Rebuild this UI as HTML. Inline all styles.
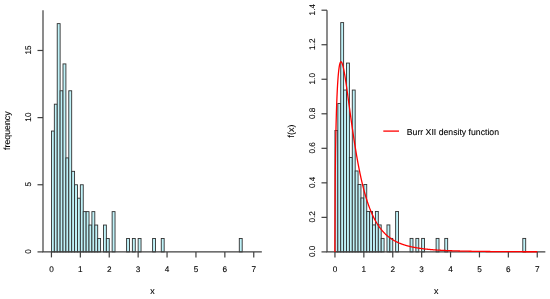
<!DOCTYPE html>
<html><head><meta charset="utf-8"><title>Histograms</title>
<style>html,body{margin:0;padding:0;background:#fff;}svg{display:block;}text{text-rendering:geometricPrecision;}</style></head>
<body><svg width="550" height="299" viewBox="0 0 550 299">
<rect width="550" height="299" fill="#fff"/>
<rect x="51.45" y="131.05" width="2.89" height="120.85" fill="#bff2f8" stroke="#303030" stroke-width="0.9"/>
<rect x="54.34" y="104.19" width="2.89" height="147.71" fill="#bff2f8" stroke="#303030" stroke-width="0.9"/>
<rect x="57.23" y="23.63" width="2.89" height="228.27" fill="#bff2f8" stroke="#303030" stroke-width="0.9"/>
<rect x="60.12" y="90.77" width="2.89" height="161.13" fill="#bff2f8" stroke="#303030" stroke-width="0.9"/>
<rect x="63.01" y="63.91" width="2.89" height="187.99" fill="#bff2f8" stroke="#303030" stroke-width="0.9"/>
<rect x="65.90" y="157.91" width="2.89" height="93.99" fill="#bff2f8" stroke="#303030" stroke-width="0.9"/>
<rect x="68.79" y="90.77" width="2.89" height="161.13" fill="#bff2f8" stroke="#303030" stroke-width="0.9"/>
<rect x="71.68" y="171.33" width="2.89" height="80.57" fill="#bff2f8" stroke="#303030" stroke-width="0.9"/>
<rect x="74.57" y="184.76" width="2.89" height="67.14" fill="#bff2f8" stroke="#303030" stroke-width="0.9"/>
<rect x="77.46" y="198.19" width="2.89" height="53.71" fill="#bff2f8" stroke="#303030" stroke-width="0.9"/>
<rect x="80.35" y="184.76" width="2.89" height="67.14" fill="#bff2f8" stroke="#303030" stroke-width="0.9"/>
<rect x="83.24" y="211.62" width="2.89" height="40.28" fill="#bff2f8" stroke="#303030" stroke-width="0.9"/>
<rect x="86.13" y="211.62" width="2.89" height="40.28" fill="#bff2f8" stroke="#303030" stroke-width="0.9"/>
<rect x="89.02" y="225.04" width="2.89" height="26.86" fill="#bff2f8" stroke="#303030" stroke-width="0.9"/>
<rect x="91.91" y="211.62" width="2.89" height="40.28" fill="#bff2f8" stroke="#303030" stroke-width="0.9"/>
<rect x="94.80" y="225.04" width="2.89" height="26.86" fill="#bff2f8" stroke="#303030" stroke-width="0.9"/>
<rect x="97.69" y="238.47" width="2.89" height="13.43" fill="#bff2f8" stroke="#303030" stroke-width="0.9"/>
<rect x="103.47" y="225.04" width="2.89" height="26.86" fill="#bff2f8" stroke="#303030" stroke-width="0.9"/>
<rect x="106.36" y="238.47" width="2.89" height="13.43" fill="#bff2f8" stroke="#303030" stroke-width="0.9"/>
<rect x="112.14" y="211.62" width="2.89" height="40.28" fill="#bff2f8" stroke="#303030" stroke-width="0.9"/>
<rect x="126.59" y="238.47" width="2.89" height="13.43" fill="#bff2f8" stroke="#303030" stroke-width="0.9"/>
<rect x="132.37" y="238.47" width="2.89" height="13.43" fill="#bff2f8" stroke="#303030" stroke-width="0.9"/>
<rect x="138.15" y="238.47" width="2.89" height="13.43" fill="#bff2f8" stroke="#303030" stroke-width="0.9"/>
<rect x="152.60" y="238.47" width="2.89" height="13.43" fill="#bff2f8" stroke="#303030" stroke-width="0.9"/>
<rect x="161.27" y="238.47" width="2.89" height="13.43" fill="#bff2f8" stroke="#303030" stroke-width="0.9"/>
<rect x="239.30" y="238.47" width="2.89" height="13.43" fill="#bff2f8" stroke="#303030" stroke-width="0.9"/>
<path d="M43.00,10.20 V251.90 H261.84" fill="none" stroke="#404040" stroke-width="1.2"/>
<line x1="51.45" y1="251.90" x2="51.45" y2="257.40" stroke="#404040" stroke-width="1.2"/>
<text x="51.45" y="271.70" font-size="8.2" text-anchor="middle" font-family="Liberation Sans, Arial, sans-serif" stroke="#000" stroke-width="0.1">0</text>
<line x1="80.35" y1="251.90" x2="80.35" y2="257.40" stroke="#404040" stroke-width="1.2"/>
<text x="80.35" y="271.70" font-size="8.2" text-anchor="middle" font-family="Liberation Sans, Arial, sans-serif" stroke="#000" stroke-width="0.1">1</text>
<line x1="109.25" y1="251.90" x2="109.25" y2="257.40" stroke="#404040" stroke-width="1.2"/>
<text x="109.25" y="271.70" font-size="8.2" text-anchor="middle" font-family="Liberation Sans, Arial, sans-serif" stroke="#000" stroke-width="0.1">2</text>
<line x1="138.15" y1="251.90" x2="138.15" y2="257.40" stroke="#404040" stroke-width="1.2"/>
<text x="138.15" y="271.70" font-size="8.2" text-anchor="middle" font-family="Liberation Sans, Arial, sans-serif" stroke="#000" stroke-width="0.1">3</text>
<line x1="167.05" y1="251.90" x2="167.05" y2="257.40" stroke="#404040" stroke-width="1.2"/>
<text x="167.05" y="271.70" font-size="8.2" text-anchor="middle" font-family="Liberation Sans, Arial, sans-serif" stroke="#000" stroke-width="0.1">4</text>
<line x1="195.95" y1="251.90" x2="195.95" y2="257.40" stroke="#404040" stroke-width="1.2"/>
<text x="195.95" y="271.70" font-size="8.2" text-anchor="middle" font-family="Liberation Sans, Arial, sans-serif" stroke="#000" stroke-width="0.1">5</text>
<line x1="224.85" y1="251.90" x2="224.85" y2="257.40" stroke="#404040" stroke-width="1.2"/>
<text x="224.85" y="271.70" font-size="8.2" text-anchor="middle" font-family="Liberation Sans, Arial, sans-serif" stroke="#000" stroke-width="0.1">6</text>
<line x1="253.75" y1="251.90" x2="253.75" y2="257.40" stroke="#404040" stroke-width="1.2"/>
<text x="253.75" y="271.70" font-size="8.2" text-anchor="middle" font-family="Liberation Sans, Arial, sans-serif" stroke="#000" stroke-width="0.1">7</text>
<line x1="43.00" y1="251.90" x2="37.50" y2="251.90" stroke="#404040" stroke-width="1.2"/>
<text transform="translate(30.70,251.40) rotate(-90)" font-size="8.2" text-anchor="middle" font-family="Liberation Sans, Arial, sans-serif" stroke="#000" stroke-width="0.1">0</text>
<line x1="43.00" y1="184.76" x2="37.50" y2="184.76" stroke="#404040" stroke-width="1.2"/>
<text transform="translate(30.70,184.26) rotate(-90)" font-size="8.2" text-anchor="middle" font-family="Liberation Sans, Arial, sans-serif" stroke="#000" stroke-width="0.1">5</text>
<line x1="43.00" y1="117.62" x2="37.50" y2="117.62" stroke="#404040" stroke-width="1.2"/>
<text transform="translate(30.70,117.12) rotate(-90)" font-size="8.2" text-anchor="middle" font-family="Liberation Sans, Arial, sans-serif" stroke="#000" stroke-width="0.1">10</text>
<line x1="43.00" y1="50.48" x2="37.50" y2="50.48" stroke="#404040" stroke-width="1.2"/>
<text transform="translate(30.70,49.98) rotate(-90)" font-size="8.2" text-anchor="middle" font-family="Liberation Sans, Arial, sans-serif" stroke="#000" stroke-width="0.1">15</text>
<text x="152.42" y="294.20" font-size="8.8" text-anchor="middle" font-family="Liberation Sans, Arial, sans-serif" stroke="#000" stroke-width="0.1">x</text>
<text transform="translate(9.60,130.65) rotate(-90)" font-size="8.8" text-anchor="middle" font-family="Liberation Sans, Arial, sans-serif" stroke="#000" stroke-width="0.1">frequency</text>
<rect x="334.95" y="130.51" width="2.89" height="121.39" fill="#bff2f8" stroke="#303030" stroke-width="0.9"/>
<rect x="337.84" y="103.54" width="2.89" height="148.36" fill="#bff2f8" stroke="#303030" stroke-width="0.9"/>
<rect x="340.73" y="22.61" width="2.89" height="229.29" fill="#bff2f8" stroke="#303030" stroke-width="0.9"/>
<rect x="343.62" y="90.05" width="2.89" height="161.85" fill="#bff2f8" stroke="#303030" stroke-width="0.9"/>
<rect x="346.51" y="63.07" width="2.89" height="188.83" fill="#bff2f8" stroke="#303030" stroke-width="0.9"/>
<rect x="349.40" y="157.49" width="2.89" height="94.41" fill="#bff2f8" stroke="#303030" stroke-width="0.9"/>
<rect x="352.29" y="90.05" width="2.89" height="161.85" fill="#bff2f8" stroke="#303030" stroke-width="0.9"/>
<rect x="355.18" y="170.97" width="2.89" height="80.93" fill="#bff2f8" stroke="#303030" stroke-width="0.9"/>
<rect x="358.07" y="184.46" width="2.89" height="67.44" fill="#bff2f8" stroke="#303030" stroke-width="0.9"/>
<rect x="360.96" y="197.95" width="2.89" height="53.95" fill="#bff2f8" stroke="#303030" stroke-width="0.9"/>
<rect x="363.85" y="184.46" width="2.89" height="67.44" fill="#bff2f8" stroke="#303030" stroke-width="0.9"/>
<rect x="366.74" y="211.44" width="2.89" height="40.46" fill="#bff2f8" stroke="#303030" stroke-width="0.9"/>
<rect x="369.63" y="211.44" width="2.89" height="40.46" fill="#bff2f8" stroke="#303030" stroke-width="0.9"/>
<rect x="372.52" y="224.92" width="2.89" height="26.98" fill="#bff2f8" stroke="#303030" stroke-width="0.9"/>
<rect x="375.41" y="211.44" width="2.89" height="40.46" fill="#bff2f8" stroke="#303030" stroke-width="0.9"/>
<rect x="378.30" y="224.92" width="2.89" height="26.98" fill="#bff2f8" stroke="#303030" stroke-width="0.9"/>
<rect x="381.19" y="238.41" width="2.89" height="13.49" fill="#bff2f8" stroke="#303030" stroke-width="0.9"/>
<rect x="386.97" y="224.92" width="2.89" height="26.98" fill="#bff2f8" stroke="#303030" stroke-width="0.9"/>
<rect x="389.86" y="238.41" width="2.89" height="13.49" fill="#bff2f8" stroke="#303030" stroke-width="0.9"/>
<rect x="395.64" y="211.44" width="2.89" height="40.46" fill="#bff2f8" stroke="#303030" stroke-width="0.9"/>
<rect x="410.09" y="238.41" width="2.89" height="13.49" fill="#bff2f8" stroke="#303030" stroke-width="0.9"/>
<rect x="415.87" y="238.41" width="2.89" height="13.49" fill="#bff2f8" stroke="#303030" stroke-width="0.9"/>
<rect x="421.65" y="238.41" width="2.89" height="13.49" fill="#bff2f8" stroke="#303030" stroke-width="0.9"/>
<rect x="436.10" y="238.41" width="2.89" height="13.49" fill="#bff2f8" stroke="#303030" stroke-width="0.9"/>
<rect x="444.77" y="238.41" width="2.89" height="13.49" fill="#bff2f8" stroke="#303030" stroke-width="0.9"/>
<rect x="522.80" y="238.41" width="2.89" height="13.49" fill="#bff2f8" stroke="#303030" stroke-width="0.9"/>
<path d="M327.00,10.20 V251.90 H545.34" fill="none" stroke="#404040" stroke-width="1.2"/>
<line x1="334.95" y1="251.90" x2="334.95" y2="257.40" stroke="#404040" stroke-width="1.2"/>
<text x="334.95" y="271.70" font-size="8.2" text-anchor="middle" font-family="Liberation Sans, Arial, sans-serif" stroke="#000" stroke-width="0.1">0</text>
<line x1="363.85" y1="251.90" x2="363.85" y2="257.40" stroke="#404040" stroke-width="1.2"/>
<text x="363.85" y="271.70" font-size="8.2" text-anchor="middle" font-family="Liberation Sans, Arial, sans-serif" stroke="#000" stroke-width="0.1">1</text>
<line x1="392.75" y1="251.90" x2="392.75" y2="257.40" stroke="#404040" stroke-width="1.2"/>
<text x="392.75" y="271.70" font-size="8.2" text-anchor="middle" font-family="Liberation Sans, Arial, sans-serif" stroke="#000" stroke-width="0.1">2</text>
<line x1="421.65" y1="251.90" x2="421.65" y2="257.40" stroke="#404040" stroke-width="1.2"/>
<text x="421.65" y="271.70" font-size="8.2" text-anchor="middle" font-family="Liberation Sans, Arial, sans-serif" stroke="#000" stroke-width="0.1">3</text>
<line x1="450.55" y1="251.90" x2="450.55" y2="257.40" stroke="#404040" stroke-width="1.2"/>
<text x="450.55" y="271.70" font-size="8.2" text-anchor="middle" font-family="Liberation Sans, Arial, sans-serif" stroke="#000" stroke-width="0.1">4</text>
<line x1="479.45" y1="251.90" x2="479.45" y2="257.40" stroke="#404040" stroke-width="1.2"/>
<text x="479.45" y="271.70" font-size="8.2" text-anchor="middle" font-family="Liberation Sans, Arial, sans-serif" stroke="#000" stroke-width="0.1">5</text>
<line x1="508.35" y1="251.90" x2="508.35" y2="257.40" stroke="#404040" stroke-width="1.2"/>
<text x="508.35" y="271.70" font-size="8.2" text-anchor="middle" font-family="Liberation Sans, Arial, sans-serif" stroke="#000" stroke-width="0.1">6</text>
<line x1="537.25" y1="251.90" x2="537.25" y2="257.40" stroke="#404040" stroke-width="1.2"/>
<text x="537.25" y="271.70" font-size="8.2" text-anchor="middle" font-family="Liberation Sans, Arial, sans-serif" stroke="#000" stroke-width="0.1">7</text>
<line x1="327.00" y1="251.90" x2="321.50" y2="251.90" stroke="#404040" stroke-width="1.2"/>
<text transform="translate(314.60,251.40) rotate(-90)" font-size="8.2" text-anchor="middle" font-family="Liberation Sans, Arial, sans-serif" stroke="#000" stroke-width="0.1">0.0</text>
<line x1="327.00" y1="217.37" x2="321.50" y2="217.37" stroke="#404040" stroke-width="1.2"/>
<text transform="translate(314.60,216.87) rotate(-90)" font-size="8.2" text-anchor="middle" font-family="Liberation Sans, Arial, sans-serif" stroke="#000" stroke-width="0.1">0.2</text>
<line x1="327.00" y1="182.84" x2="321.50" y2="182.84" stroke="#404040" stroke-width="1.2"/>
<text transform="translate(314.60,182.34) rotate(-90)" font-size="8.2" text-anchor="middle" font-family="Liberation Sans, Arial, sans-serif" stroke="#000" stroke-width="0.1">0.4</text>
<line x1="327.00" y1="148.31" x2="321.50" y2="148.31" stroke="#404040" stroke-width="1.2"/>
<text transform="translate(314.60,147.81) rotate(-90)" font-size="8.2" text-anchor="middle" font-family="Liberation Sans, Arial, sans-serif" stroke="#000" stroke-width="0.1">0.6</text>
<line x1="327.00" y1="113.79" x2="321.50" y2="113.79" stroke="#404040" stroke-width="1.2"/>
<text transform="translate(314.60,113.29) rotate(-90)" font-size="8.2" text-anchor="middle" font-family="Liberation Sans, Arial, sans-serif" stroke="#000" stroke-width="0.1">0.8</text>
<line x1="327.00" y1="79.26" x2="321.50" y2="79.26" stroke="#404040" stroke-width="1.2"/>
<text transform="translate(314.60,78.76) rotate(-90)" font-size="8.2" text-anchor="middle" font-family="Liberation Sans, Arial, sans-serif" stroke="#000" stroke-width="0.1">1.0</text>
<line x1="327.00" y1="44.73" x2="321.50" y2="44.73" stroke="#404040" stroke-width="1.2"/>
<text transform="translate(314.60,44.23) rotate(-90)" font-size="8.2" text-anchor="middle" font-family="Liberation Sans, Arial, sans-serif" stroke="#000" stroke-width="0.1">1.2</text>
<line x1="327.00" y1="10.20" x2="321.50" y2="10.20" stroke="#404040" stroke-width="1.2"/>
<text transform="translate(314.60,9.70) rotate(-90)" font-size="8.2" text-anchor="middle" font-family="Liberation Sans, Arial, sans-serif" stroke="#000" stroke-width="0.1">1.4</text>
<text x="436.17" y="294.20" font-size="8.8" text-anchor="middle" font-family="Liberation Sans, Arial, sans-serif" stroke="#000" stroke-width="0.1">x</text>
<text transform="translate(294.00,131.05) rotate(-90)" font-size="8.8" text-anchor="middle" font-family="Liberation Sans, Arial, sans-serif" stroke="#000" stroke-width="0.1">f(x)</text>
<polyline points="334.95,251.90 335.24,175.87 335.53,152.45 335.82,136.08 336.11,123.34 336.39,112.96 336.68,104.29 336.97,96.95 337.26,90.69 337.55,85.33 337.84,80.74 338.13,76.81 338.42,73.47 338.71,70.66 339.00,68.31 339.28,66.39 339.57,64.84 339.86,63.65 340.15,62.76 340.44,62.17 340.73,61.84 341.02,61.75 341.31,61.88 341.60,62.21 341.89,62.73 342.18,63.42 342.46,64.26 342.75,65.25 343.04,66.36 343.33,67.60 343.62,68.94 343.91,70.38 344.20,71.91 344.49,73.52 344.78,75.20 345.06,76.95 345.35,78.76 345.64,80.62 345.93,82.52 346.22,84.47 346.51,86.45 346.80,88.46 347.09,90.50 347.38,92.56 347.67,94.63 347.95,96.73 348.24,98.83 348.53,100.94 348.82,103.05 349.11,105.17 349.40,107.28 349.69,109.39 349.98,111.50 350.27,113.60 350.56,115.69 350.84,117.77 351.13,119.84 351.42,121.90 351.71,123.94 352.00,125.96 352.29,127.97 352.58,129.96 352.87,131.93 353.16,133.88 353.45,135.81 353.74,137.72 354.02,139.61 354.31,141.47 354.60,143.31 354.89,145.13 355.18,146.93 355.47,148.70 355.76,150.45 356.05,152.17 356.34,153.87 356.62,155.55 356.91,157.20 357.20,158.83 357.49,160.43 357.78,162.01 358.07,163.56 358.36,165.09 358.65,166.60 358.94,168.08 359.23,169.54 359.51,170.97 359.80,172.38 360.09,173.77 360.38,175.13 360.67,176.48 360.96,177.79 361.25,179.09 361.54,180.36 361.83,181.62 362.12,182.85 362.40,184.05 362.69,185.24 362.98,186.41 363.27,187.55 363.56,188.68 363.85,189.79 364.14,190.87 364.43,191.94 364.72,192.99 365.01,194.01 365.29,195.02 365.58,196.01 365.87,196.99 366.16,197.94 366.45,198.88 366.74,199.80 367.03,200.71 367.32,201.59 367.61,202.46 367.90,203.32 368.19,204.16 368.47,204.98 368.76,205.79 369.05,206.58 369.34,207.36 369.63,208.13 369.92,208.88 370.21,209.61 370.50,210.33 370.79,211.04 371.07,211.74 371.36,212.42 371.65,213.09 371.94,213.75 372.23,214.40 372.52,215.03 372.81,215.65 373.10,216.26 373.39,216.86 373.68,217.45 373.96,218.02 374.25,218.59 374.54,219.15 374.83,219.69 375.12,220.23 375.41,220.75 375.70,221.27 375.99,221.77 376.28,222.27 376.57,222.76 376.85,223.24 377.14,223.70 377.43,224.17 377.72,224.62 378.01,225.06 378.30,225.50 378.59,225.93 378.88,226.35 379.17,226.76 379.46,227.16 379.75,227.56 380.03,227.95 380.32,228.34 380.61,228.71 380.90,229.08 381.19,229.44 381.48,229.80 381.77,230.15 382.06,230.49 382.35,230.83 382.63,231.16 382.92,231.49 383.21,231.81 383.50,232.12 383.79,232.43 384.08,232.73 384.37,233.03 384.66,233.32 384.95,233.61 385.24,233.89 385.52,234.17 385.81,234.44 386.10,234.71 386.39,234.97 386.68,235.23 386.97,235.48 387.26,235.73 387.55,235.97 387.84,236.21 388.13,236.45 388.41,236.68 388.70,236.91 388.99,237.13 389.28,237.35 389.57,237.57 389.86,237.78 390.15,237.99 390.44,238.20 390.73,238.40 391.02,238.60 391.31,238.79 391.59,238.98 391.88,239.17 392.17,239.36 392.46,239.54 392.75,239.72 393.04,239.89 393.33,240.07 393.62,240.24 393.91,240.40 394.19,240.57 394.48,240.73 394.77,240.89 395.06,241.05 395.35,241.20 395.64,241.35 395.93,241.50 396.22,241.65 396.51,241.79 396.80,241.93 397.08,242.07 397.37,242.21 397.66,242.34 397.95,242.48 398.24,242.61 398.53,242.73 398.82,242.86 399.11,242.98 399.40,243.11 399.69,243.23 399.97,243.34 400.26,243.46 400.55,243.58 400.84,243.69 401.13,243.80 401.42,243.91 401.71,244.02 402.00,244.12 402.29,244.23 402.58,244.33 402.87,244.43 403.15,244.53 403.44,244.63 403.73,244.72 404.02,244.82 404.31,244.91 404.60,245.00 404.89,245.09 405.18,245.18 405.47,245.27 405.75,245.36 406.04,245.44 406.33,245.52 406.62,245.61 406.91,245.69 407.20,245.77 407.49,245.85 407.78,245.92 408.07,246.00 408.36,246.07 408.64,246.15 408.93,246.22 409.22,246.29 409.51,246.36 409.80,246.43 410.09,246.50 410.38,246.57 410.67,246.64 410.96,246.70 411.25,246.77 411.53,246.83 411.82,246.89 412.11,246.96 412.40,247.02 412.69,247.08 412.98,247.14 413.27,247.19 413.56,247.25 413.85,247.31 414.14,247.36 414.42,247.42 414.71,247.47 415.00,247.53 415.29,247.58 415.58,247.63 415.87,247.68 416.16,247.73 416.45,247.78 416.74,247.83 417.03,247.88 417.31,247.93 417.60,247.97 417.89,248.02 418.18,248.07 418.47,248.11 418.76,248.16 419.05,248.20 419.34,248.24 419.63,248.29 419.92,248.33 420.20,248.37 420.49,248.41 420.78,248.45 421.07,248.49 421.36,248.53 421.65,248.57 421.94,248.61 422.23,248.64 422.52,248.68 422.81,248.72 423.10,248.75 423.38,248.79 423.67,248.82 423.96,248.86 424.25,248.89 424.54,248.93 424.83,248.96 425.12,248.99 425.41,249.03 425.70,249.06 425.99,249.09 426.27,249.12 426.56,249.15 426.85,249.18 427.14,249.21 427.43,249.24 427.72,249.27 428.01,249.30 428.30,249.33 428.59,249.35 428.88,249.38 429.16,249.41 429.45,249.44 429.74,249.46 430.03,249.49 430.32,249.52 430.61,249.54 430.90,249.57 431.19,249.59 431.48,249.62 431.76,249.64 432.05,249.66 432.34,249.69 432.63,249.71 432.92,249.73 433.21,249.76 433.50,249.78 433.79,249.80 434.08,249.82 434.37,249.85 434.65,249.87 434.94,249.89 435.23,249.91 435.52,249.93 435.81,249.95 436.10,249.97 436.39,249.99 436.68,250.01 436.97,250.03 437.26,250.05 437.54,250.07 437.83,250.09 438.12,250.10 438.41,250.12 438.70,250.14 438.99,250.16 439.28,250.18 439.57,250.19 439.86,250.21 440.15,250.23 440.43,250.24 440.72,250.26 441.01,250.28 441.30,250.29 441.59,250.31 441.88,250.32 442.17,250.34 442.46,250.36 442.75,250.37 443.04,250.39 443.32,250.40 443.61,250.42 443.90,250.43 444.19,250.44 444.48,250.46 444.77,250.47 445.06,250.49 445.35,250.50 445.64,250.51 445.93,250.53 446.21,250.54 446.50,250.55 446.79,250.57 447.08,250.58 447.37,250.59 447.66,250.60 447.95,250.62 448.24,250.63 448.53,250.64 448.82,250.65 449.11,250.66 449.39,250.68 449.68,250.69 449.97,250.70 450.26,250.71 450.55,250.72 450.84,250.73 451.13,250.74 451.42,250.75 451.71,250.76 452.00,250.77 452.28,250.79 452.57,250.80 452.86,250.81 453.15,250.82 453.44,250.83 453.73,250.84 454.02,250.85 454.31,250.85 454.60,250.86 454.88,250.87 455.17,250.88 455.46,250.89 455.75,250.90 456.04,250.91 456.33,250.92 456.62,250.93 456.91,250.94 457.20,250.95 457.49,250.95 457.77,250.96 458.06,250.97 458.35,250.98 458.64,250.99 458.93,251.00 459.22,251.00 459.51,251.01 459.80,251.02 460.09,251.03 460.38,251.03 460.66,251.04 460.95,251.05 461.24,251.06 461.53,251.06 461.82,251.07 462.11,251.08 462.40,251.09 462.69,251.09 462.98,251.10 463.27,251.11 463.55,251.11 463.84,251.12 464.13,251.13 464.42,251.13 464.71,251.14 465.00,251.15 465.29,251.15 465.58,251.16 465.87,251.17 466.16,251.17 466.44,251.18 466.73,251.18 467.02,251.19 467.31,251.20 467.60,251.20 467.89,251.21 468.18,251.21 468.47,251.22 468.76,251.23 469.05,251.23 469.33,251.24 469.62,251.24 469.91,251.25 470.20,251.25 470.49,251.26 470.78,251.26 471.07,251.27 471.36,251.27 471.65,251.28 471.94,251.28 472.23,251.29 472.51,251.29 472.80,251.30 473.09,251.30 473.38,251.31 473.67,251.31 473.96,251.32 474.25,251.32 474.54,251.33 474.83,251.33 475.12,251.34 475.40,251.34 475.69,251.35 475.98,251.35 476.27,251.35 476.56,251.36 476.85,251.36 477.14,251.37 477.43,251.37 477.72,251.38 478.00,251.38 478.29,251.38 478.58,251.39 478.87,251.39 479.16,251.40 479.45,251.40 479.74,251.40 480.03,251.41 480.32,251.41 480.61,251.42 480.89,251.42 481.18,251.42 481.47,251.43 481.76,251.43 482.05,251.43 482.34,251.44 482.63,251.44 482.92,251.44 483.21,251.45 483.50,251.45 483.78,251.46 484.07,251.46 484.36,251.46 484.65,251.47 484.94,251.47 485.23,251.47 485.52,251.47 485.81,251.48 486.10,251.48 486.39,251.48 486.67,251.49 486.96,251.49 487.25,251.49 487.54,251.50 487.83,251.50 488.12,251.50 488.41,251.51 488.70,251.51 488.99,251.51 489.28,251.51 489.56,251.52 489.85,251.52 490.14,251.52 490.43,251.53 490.72,251.53 491.01,251.53 491.30,251.53 491.59,251.54 491.88,251.54 492.17,251.54 492.45,251.54 492.74,251.55 493.03,251.55 493.32,251.55 493.61,251.55 493.90,251.56 494.19,251.56 494.48,251.56 494.77,251.56 495.06,251.57 495.34,251.57 495.63,251.57 495.92,251.57 496.21,251.58 496.50,251.58 496.79,251.58 497.08,251.58 497.37,251.59 497.66,251.59 497.95,251.59 498.24,251.59 498.52,251.59 498.81,251.60 499.10,251.60 499.39,251.60 499.68,251.60 499.97,251.61 500.26,251.61 500.55,251.61 500.84,251.61 501.12,251.61 501.41,251.62 501.70,251.62 501.99,251.62 502.28,251.62 502.57,251.62 502.86,251.63 503.15,251.63 503.44,251.63 503.73,251.63 504.01,251.63 504.30,251.63 504.59,251.64 504.88,251.64 505.17,251.64 505.46,251.64 505.75,251.64 506.04,251.65 506.33,251.65 506.62,251.65 506.90,251.65 507.19,251.65 507.48,251.65 507.77,251.66 508.06,251.66 508.35,251.66 508.64,251.66 508.93,251.66 509.22,251.66 509.51,251.67 509.79,251.67 510.08,251.67 510.37,251.67 510.66,251.67 510.95,251.67 511.24,251.67 511.53,251.68 511.82,251.68 512.11,251.68 512.40,251.68 512.68,251.68 512.97,251.68 513.26,251.68 513.55,251.69 513.84,251.69 514.13,251.69 514.42,251.69 514.71,251.69 515.00,251.69 515.29,251.69 515.58,251.70 515.86,251.70 516.15,251.70 516.44,251.70 516.73,251.70 517.02,251.70 517.31,251.70 517.60,251.70 517.89,251.71 518.18,251.71 518.47,251.71 518.75,251.71 519.04,251.71 519.33,251.71 519.62,251.71 519.91,251.71 520.20,251.72 520.49,251.72 520.78,251.72 521.07,251.72 521.36,251.72 521.64,251.72 521.93,251.72 522.22,251.72 522.51,251.72 522.80,251.73 523.09,251.73 523.38,251.73 523.67,251.73 523.96,251.73 524.25,251.73 524.53,251.73 524.82,251.73 525.11,251.73 525.40,251.74 525.69,251.74 525.98,251.74 526.27,251.74 526.56,251.74 526.85,251.74 527.13,251.74 527.42,251.74 527.71,251.74 528.00,251.74 528.29,251.75 528.58,251.75 528.87,251.75 529.16,251.75 529.45,251.75 529.74,251.75 530.02,251.75 530.31,251.75 530.60,251.75 530.89,251.75 531.18,251.75 531.47,251.76 531.76,251.76 532.05,251.76 532.34,251.76 532.63,251.76 532.91,251.76 533.20,251.76 533.49,251.76 533.78,251.76 534.07,251.76 534.36,251.76 534.65,251.76 534.94,251.77 535.23,251.77 535.52,251.77 535.80,251.77 536.09,251.77 536.38,251.77 536.67,251.77 536.96,251.77 537.25,251.77" fill="none" stroke="#ff0000" stroke-width="1.3" stroke-linejoin="round"/>
<line x1="383.3" y1="131.1" x2="399.0" y2="131.1" stroke="#ff0000" stroke-width="1.3"/>
<text x="406.8" y="134.8" font-size="8.7" font-family="Liberation Sans, Arial, sans-serif" stroke="#000" stroke-width="0.1">Burr XII density function</text>
</svg></body></html>
